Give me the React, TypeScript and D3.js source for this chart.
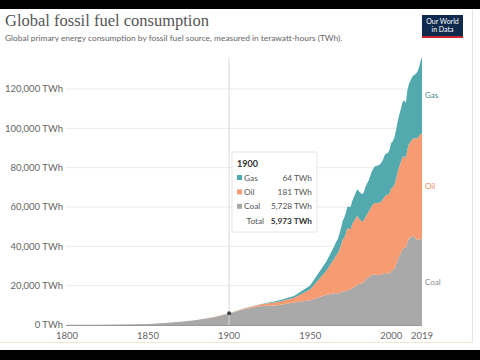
import React from 'react';
import * as d3 from 'd3';

const years = [
  1800, 1810, 1820, 1830, 1840, 1850, 1860, 1870, 1880, 1890, 1900, 1910, 1920, 1930, 1940, 1950, 1960,
  1965, 1966, 1967, 1968, 1969, 1970, 1971, 1972, 1973, 1974, 1975, 1976, 1977, 1978, 1979,
  1980, 1981, 1982, 1983, 1984, 1985, 1986, 1987, 1988, 1989, 1990, 1991, 1992, 1993, 1994,
  1995, 1996, 1997, 1998, 1999, 2000, 2001, 2002, 2003, 2004, 2005, 2006, 2007, 2008, 2009,
  2010, 2011, 2012, 2013, 2014, 2015, 2016, 2017, 2018, 2019,
];

const coal = [
  97, 128, 153, 264, 356, 569, 1061, 1642, 2542, 3856, 5728, 8106, 9600, 10100, 11400, 12603, 15442,
  16140, 16300, 15900, 16200, 16700, 17200, 17100, 17200, 17700, 17800, 18100, 18800, 19300, 19600, 20400,
  20900, 21000, 21300, 21900, 22900, 23800, 24200, 24900, 25400, 25600, 25800, 25500, 25300, 25500, 25700,
  26100, 26500, 26400, 26000, 26300, 27500, 27700, 28600, 30700, 32700, 34900, 36700, 38700, 39300, 39100,
  41900, 44200, 44500, 45300, 45100, 44000, 43200, 43400, 44000, 43800,
];

const oil = [
  0, 0, 0, 0, 0, 0, 0, 6, 33, 89, 181, 381, 889, 1631, 2413, 5444, 12157,
  17800, 19100, 20400, 22100, 23900, 26200, 27400, 29300, 31600, 31000, 30700, 32500, 33600, 34700, 35100,
  33500, 32300, 31300, 31200, 31800, 32300, 33300, 34000, 35200, 35800, 36300, 36400, 36800, 36700, 37400,
  38000, 38900, 39800, 40000, 40900, 42000, 42300, 42700, 43600, 45200, 45800, 46300, 46800, 46500, 45900,
  47500, 48000, 48600, 49300, 49800, 50800, 51700, 52500, 53100, 53600,
];

const gas = [
  0, 0, 0, 0, 0, 0, 0, 0, 9, 36, 64, 135, 233, 575, 874, 2092, 4645,
  6300, 6800, 7300, 7900, 8600, 9400, 10000, 10500, 11000, 11200, 11300, 11900, 12200, 12700, 13500,
  13700, 13900, 13900, 14100, 15200, 15700, 15900, 16700, 17400, 18100, 18600, 19000, 19100, 19400, 19500,
  20100, 21000, 21000, 21400, 22000, 23000, 23400, 24100, 24800, 25600, 26300, 26900, 27800, 28500, 27900,
  30000, 30600, 31300, 31700, 32100, 32800, 33600, 34600, 36600, 39100,
];

const seriesKeys = ['Coal', 'Oil', 'Gas'];
const seriesColors = ['#a9a9a9', '#f79b72', '#52a9ae'];
const labelColors = ['#8a8a8a', '#ea8a5c', '#3f8f93'];
const yTicks = [0, 20000, 40000, 60000, 80000, 100000, 120000];
const xTicks = [1800, 1850, 1900, 1950, 2000, 2019];
const hoverYear = 1900;

const fmt = d3.format(',');

export default function App() {
  const x = d3.scaleLinear().domain([1800, 2019]).range([67, 422]);
  const y = d3.scaleLinear().domain([0, 120000]).range([325, 89]);

  const table = years.map((yr, i) => ({ year: yr, Coal: coal[i], Oil: oil[i], Gas: gas[i] }));
  const stacked = d3.stack<any>().keys(seriesKeys)(table);
  const area = d3
    .area<any>()
    .x((d) => x(d.data.year))
    .y0((d) => y(d[0]))
    .y1((d) => y(d[1]));

  const last = stacked.map((s) => s[s.length - 1]);
  const hi = years.indexOf(hoverYear);
  const hoverVals: Record<string, number> = { Coal: coal[hi], Oil: oil[hi], Gas: gas[hi] };
  const hoverTotal = coal[hi] + oil[hi] + gas[hi];

  const sans = 'Lato, "Noto Sans", sans-serif';
  const tipRows = ['Gas', 'Oil', 'Coal'];

  return (
    <svg
      width={480}
      height={360}
      style={{ position: 'absolute', left: 0, top: 0, display: 'block' }}
      fontFamily={sans}
    >
      <rect x={0} y={0} width={480} height={360} fill="#ffffff" />
      {/* frame */}
      <line x1={472.5} x2={472.5} y1={9} y2={343} stroke="#e4e4e4" strokeWidth={1} />
      <line x1={0} x2={472} y1={342.5} y2={342.5} stroke="#efe7cf" strokeWidth={1.2} />

      {/* title */}
      <text x={5} y={26} fontFamily='"Liberation Serif", "DejaVu Serif", serif' fontSize={16.5} fill="#555">
        Global fossil fuel consumption
      </text>
      <text x={5} y={40.5} fontSize={8.4} fill="#666">
        Global primary energy consumption by fossil fuel source, measured in terawatt-hours (TWh).
      </text>

      {/* logo */}
      <rect x={422} y={15} width={41} height={23} fill="#0e2a4f" />
      <rect x={422} y={36} width={41} height={2} fill="#c8242c" />
      <text x={442.5} y={23.5} fontSize={7} fill="#fff" textAnchor="middle">Our World</text>
      <text x={442.5} y={31.5} fontSize={7} fill="#fff" textAnchor="middle">in Data</text>

      {/* grid */}
      {yTicks.map((t) => (
        <g key={t}>
          {t > 0 && (
            <line x1={66} x2={422} y1={y(t)} y2={y(t)} stroke="#ebebeb" strokeWidth={1} />
          )}
          <text x={63} y={y(t) + 3.3} fontSize={9.5} fill="#666" textAnchor="end">
            {fmt(t)} TWh
          </text>
        </g>
      ))}

      {/* areas */}
      {stacked.map((s, i) => (
        <path key={s.key} d={area(s) || ''} fill={seriesColors[i]} />
      ))}

      {/* baseline */}
      <line x1={66} x2={422} y1={325.5} y2={325.5} stroke="#999" strokeWidth={1} />

      {/* x ticks */}
      {xTicks.map((t) => (
        <text key={t} x={x(t)} y={339} fontSize={9.5} fill="#666" textAnchor="middle">
          {t}
        </text>
      ))}

      {/* series labels */}
      {last.map((d, i) => (
        <text
          key={seriesKeys[i]}
          x={425}
          y={y((d[0] + d[1]) / 2) + 3}
          fontSize={8}
          fill={labelColors[i]}
        >
          {seriesKeys[i]}
        </text>
      ))}

      {/* hover line */}
      <line x1={x(hoverYear)} x2={x(hoverYear)} y1={57} y2={325} stroke="#d8d8d8" strokeWidth={1} />
      <circle cx={x(hoverYear)} cy={y(hoverTotal)} r={2} fill="#444" />

      {/* tooltip */}
      <g>
        <rect x={232} y={152} width={85} height={80} fill="#fff" stroke="#e6e6e6" strokeWidth={1} />
        <text x={237} y={167} fontSize={9} fontWeight="bold" fill="#333">
          {hoverYear}
        </text>
        {tipRows.map((k, j) => {
          const cy = 178 + j * 14.4;
          const ci = seriesKeys.indexOf(k);
          return (
            <g key={k}>
              <rect x={237} y={cy - 3} width={5} height={5} fill={seriesColors[ci]} />
              <text x={244} y={cy + 2.5} fontSize={8.3} fill="#555">
                {k}
              </text>
              <text x={312} y={cy + 2.5} fontSize={8.3} fill="#555" textAnchor="end">
                {fmt(hoverVals[k])} TWh
              </text>
            </g>
          );
        })}
        <text x={246.5} y={224} fontSize={8.3} fill="#555">
          Total
        </text>
        <text x={312} y={224} fontSize={8.3} fill="#333" fontWeight="bold" textAnchor="end">
          {fmt(hoverTotal)} TWh
        </text>
      </g>

      {/* black bars of screenshot */}
      <rect x={0} y={0} width={480} height={9} fill="#000" />
      <rect x={0} y={350} width={480} height={10} fill="#000" />
    </svg>
  );
}
